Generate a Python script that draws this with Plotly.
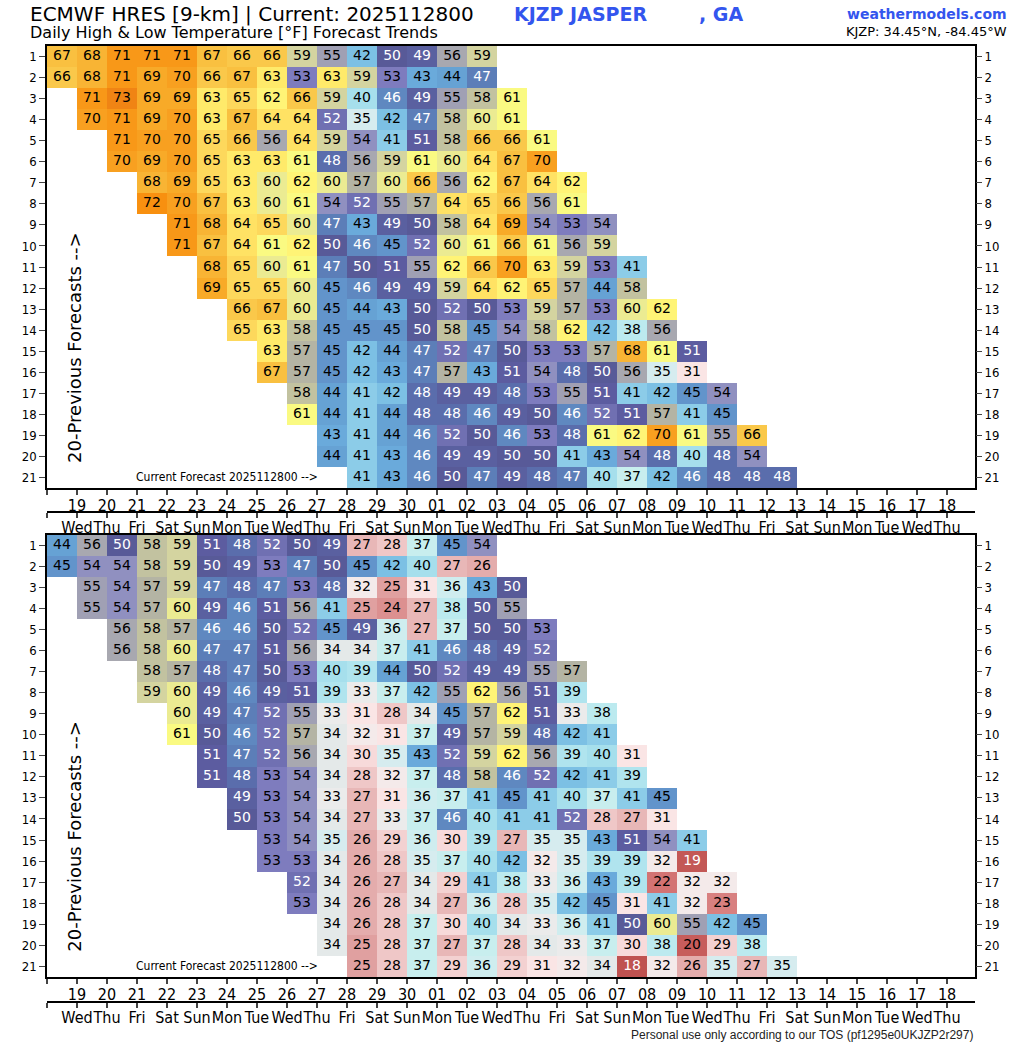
import plotly.graph_objects as go

# ---------------- data ----------------
date_labels = ['19', '20', '21', '22', '23', '24', '25', '26', '27', '28', '29', '30',
               '01', '02', '03', '04', '05', '06', '07', '08', '09', '10', '11', '12',
               '13', '14', '15', '16', '17', '18']
weekday_labels = ['Wed', 'Thu', 'Fri', 'Sat', 'Sun', 'Mon', 'Tue'] * 4 + ['Wed', 'Thu']
row_labels = list(range(1, 22))

# first day-column of every forecast row (each run shifts 12 h)
row_start = [0, 0, 1, 1, 2, 2, 3, 3, 4, 4, 5, 5, 6, 6, 7, 7, 8, 8, 9, 9, 10]

high_temps = [
    [67, 68, 71, 71, 71, 67, 66, 66, 59, 55, 42, 50, 49, 56, 59],
    [66, 68, 71, 69, 70, 66, 67, 63, 53, 63, 59, 53, 43, 44, 47],
    [71, 73, 69, 69, 63, 65, 62, 66, 59, 40, 46, 49, 55, 58, 61],
    [70, 71, 69, 70, 63, 67, 64, 64, 52, 35, 42, 47, 58, 60, 61],
    [71, 70, 70, 65, 66, 56, 64, 59, 54, 41, 51, 58, 66, 66, 61],
    [70, 69, 70, 65, 63, 63, 61, 48, 56, 59, 61, 60, 64, 67, 70],
    [68, 69, 65, 63, 60, 62, 60, 57, 60, 66, 56, 62, 67, 64, 62],
    [72, 70, 67, 63, 60, 61, 54, 52, 55, 57, 64, 65, 66, 56, 61],
    [71, 68, 64, 65, 60, 47, 43, 49, 50, 58, 64, 69, 54, 53, 54],
    [71, 67, 64, 61, 62, 50, 46, 45, 52, 60, 61, 66, 61, 56, 59],
    [68, 65, 60, 61, 47, 50, 51, 55, 62, 66, 70, 63, 59, 53, 41],
    [69, 65, 65, 60, 45, 46, 49, 49, 59, 64, 62, 65, 57, 44, 58],
    [66, 67, 60, 45, 44, 43, 50, 52, 50, 53, 59, 57, 53, 60, 62],
    [65, 63, 58, 45, 45, 45, 50, 58, 45, 54, 58, 62, 42, 38, 56],
    [63, 57, 45, 42, 44, 47, 52, 47, 50, 53, 53, 57, 68, 61, 51],
    [67, 57, 45, 42, 43, 47, 57, 43, 51, 54, 48, 50, 56, 35, 31],
    [58, 44, 41, 42, 48, 49, 49, 48, 53, 55, 51, 41, 42, 45, 54],
    [61, 44, 41, 44, 48, 48, 46, 49, 50, 46, 52, 51, 57, 41, 45],
    [43, 41, 44, 46, 52, 50, 46, 53, 48, 61, 62, 70, 61, 55, 66],
    [44, 41, 43, 46, 49, 49, 50, 50, 41, 43, 54, 48, 40, 48, 54],
    [41, 43, 46, 50, 47, 49, 48, 47, 40, 37, 42, 46, 48, 48, 48],
]

low_temps = [
    [44, 56, 50, 58, 59, 51, 48, 52, 50, 49, 27, 28, 37, 45, 54],
    [45, 54, 54, 58, 59, 50, 49, 53, 47, 50, 45, 42, 40, 27, 26],
    [55, 54, 57, 59, 47, 48, 47, 53, 48, 32, 25, 31, 36, 43, 50],
    [55, 54, 57, 60, 49, 46, 51, 56, 41, 25, 24, 27, 38, 50, 55],
    [56, 58, 57, 46, 46, 50, 52, 45, 49, 36, 27, 37, 50, 50, 53],
    [56, 58, 60, 47, 47, 51, 56, 34, 34, 37, 41, 46, 48, 49, 52],
    [58, 57, 48, 47, 50, 53, 40, 39, 44, 50, 52, 49, 49, 55, 57],
    [59, 60, 49, 46, 49, 51, 39, 33, 37, 42, 55, 62, 56, 51, 39],
    [60, 49, 47, 52, 55, 33, 31, 28, 34, 45, 57, 62, 51, 33, 38],
    [61, 50, 46, 52, 57, 34, 32, 31, 37, 49, 57, 59, 48, 42, 41],
    [51, 47, 52, 56, 34, 30, 35, 43, 52, 59, 62, 56, 39, 40, 31],
    [51, 48, 53, 54, 34, 28, 32, 37, 48, 58, 46, 52, 42, 41, 39],
    [49, 53, 54, 33, 27, 31, 36, 37, 41, 45, 41, 40, 37, 41, 45],
    [50, 53, 54, 34, 27, 33, 37, 46, 40, 41, 41, 52, 28, 27, 31],
    [53, 54, 35, 26, 29, 36, 30, 39, 27, 35, 35, 43, 51, 54, 41],
    [53, 53, 34, 26, 28, 35, 37, 40, 42, 32, 35, 39, 39, 32, 19],
    [52, 34, 26, 27, 34, 29, 41, 38, 33, 36, 43, 39, 22, 32, 32],
    [53, 34, 26, 28, 34, 27, 36, 28, 35, 42, 45, 31, 41, 32, 23],
    [34, 26, 28, 37, 30, 40, 34, 33, 36, 41, 50, 60, 55, 42, 45],
    [34, 25, 28, 37, 27, 37, 28, 34, 33, 37, 30, 38, 20, 29, 38],
    [25, 28, 37, 29, 36, 29, 31, 32, 34, 18, 32, 26, 35, 27, 35],
]

# temperature (F) -> colour anchors
temp_color_stops = [
    (18, '#bf5250'), (20, '#c75d5c'), (22, '#d37373'), (23, '#d88080'),
    (25, '#e0a0a0'), (27, '#e8b7b7'), (28, '#efc7c7'), (30, '#f7dada'),
    (31, '#fae5e5'), (32, '#f4eaea'), (33, '#ebebeb'), (34, '#e4e9e9'),
    (35, '#d6ecef'), (36, '#cfedef'), (37, '#c8eeee'), (38, '#bceaef'),
    (39, '#b0e4ee'), (40, '#a6dfec'), (41, '#8ccce8'), (42, '#7cc0e4'),
    (43, '#6aaadb'), (44, '#66a2d4'), (45, '#6294cb'), (46, '#5f88c0'),
    (47, '#5c7eb8'), (48, '#5a6dac'), (49, '#5a60a0'), (50, '#585a98'),
    (51, '#5c5ca0'), (52, '#7070b2'), (53, '#7e7cbe'), (54, '#9090c0'),
    (55, '#a0a0b4'), (56, '#a8a8b0'), (57, '#b4b4a4'), (58, '#c2c2a0'),
    (59, '#d4d4a0'), (60, '#ebeb92'), (61, '#fafa82'), (62, '#fff476'),
    (63, '#ffea6a'), (64, '#ffe264'), (65, '#fdd85c'), (66, '#fac84a'),
    (67, '#f9c040'), (68, '#f8b434'), (69, '#f8aa28'), (70, '#f8a020'),
    (71, '#f89818'), (72, '#f89010'), (73, '#f08414'),
]

N_COLS = 30
ZMIN, ZMAX = temp_color_stops[0][0], temp_color_stops[-1][0]
colorscale = [[(v - ZMIN) / (ZMAX - ZMIN), c] for v, c in temp_color_stops]


def build_grid(rows):
    grid = [[None] * N_COLS for _ in rows]
    for r, vals in enumerate(rows):
        for j, v in enumerate(vals):
            grid[r][row_start[r] + j] = v
    return grid


def text_points(rows, light):
    xs, ys, ts = [], [], []
    for r, vals in enumerate(rows):
        for j, v in enumerate(vals):
            is_light = (46 <= v <= 52) or v <= 19
            if is_light == light:
                xs.append(row_start[r] + j + 0.5)
                ys.append(row_labels[r])
                ts.append(str(v))
    return xs, ys, ts


# ---------------- figure ----------------
W, H = 1024, 1044
ML, MR, MT, MB = 47, 49, 46, 42
PW, PH = W - ML - MR, H - MT - MB


def pxx(px):
    return (px - ML) / PW


def pxy(py):
    return (H - MB - py) / PH


X_RANGE = [0, 30.93]
col_centers = [c + 0.5 for c in range(N_COLS)]
CELL_FONT = dict(family='DejaVu Sans', size=14)
NARROW = 'DejaVu Sans Condensed, Liberation Sans Narrow, Roboto, sans-serif'

fig = go.Figure()

panels = [(high_temps, 'x', 'y'), (low_temps, 'x2', 'y2')]
for rows, xa, ya in panels:
    fig.add_trace(go.Heatmap(
        z=build_grid(rows), x=col_centers, y=row_labels,
        colorscale=colorscale, zmin=ZMIN, zmax=ZMAX, showscale=False,
        hoverinfo='skip', xaxis=xa, yaxis=ya))
    for light in (False, True):
        xs, ys, ts = text_points(rows, light)
        fig.add_trace(go.Scatter(
            x=xs, y=ys, text=ts, mode='text',
            textfont=dict(CELL_FONT, color='white' if light else 'black'),
            hoverinfo='skip', showlegend=False, xaxis=xa, yaxis=ya))

# dummy traces to activate the overlay axes (weekday rows, right-hand labels)
for xa, ya in [('x3', 'y'), ('x4', 'y2'), ('x', 'y3'), ('x2', 'y4')]:
    fig.add_trace(go.Scatter(x=[None], y=[None], mode='markers', hoverinfo='skip',
                             showlegend=False, xaxis=xa, yaxis=ya))

TICK_FONT = dict(family=NARROW, size=16, color='black')
YTICK_FONT = dict(family=NARROW, size=13, color='black')
LINE_W = 1.5

top_dom = [pxy(488), 1.0]
bot_dom = [pxy(977), pxy(534.5)]

date_ax = dict(range=X_RANGE, tickmode='array', tickvals=list(range(0, 31)),
               ticktext=[''] + date_labels, ticks='outside', ticklen=5, tickwidth=1.5,
               showline=True, linewidth=LINE_W, linecolor='black', mirror=True,
               showgrid=False, zeroline=False, tickfont=TICK_FONT, tickangle=0,
               ticklabelstandoff=-3, automargin=False, fixedrange=True)
wk_ax = dict(range=X_RANGE, tickmode='array', tickvals=list(range(0, 31)),
             ticktext=[''] + weekday_labels, ticks='outside', ticklen=5, tickwidth=1.5,
             showline=True, linewidth=LINE_W, linecolor='black', side='bottom',
             showgrid=False, zeroline=False, tickfont=TICK_FONT, tickangle=0,
             ticklabelstandoff=-4, automargin=False, anchor='free')
row_ax = dict(range=[21.5, 0.5], tickmode='array', tickvals=row_labels,
              ticktext=[str(v) for v in row_labels], ticks='outside', ticklen=6,
              tickwidth=1.2, showline=True, linewidth=LINE_W, linecolor='black',
              mirror=True, showgrid=False, zeroline=False, tickfont=YTICK_FONT,
              automargin=False)
row_ax_r = dict(range=[21.5, 0.5], tickmode='array', tickvals=row_labels,
                ticktext=[str(v) for v in row_labels], ticks='outside', ticklen=6,
                tickwidth=1.2, showline=False, side='right', showgrid=False,
                zeroline=False, tickfont=YTICK_FONT, automargin=False)

fig.update_layout(
    width=W, height=H,
    margin=dict(l=ML, r=MR, t=MT, b=MB, autoexpand=False),
    paper_bgcolor='white', plot_bgcolor='white',
    showlegend=False,
    xaxis=dict(date_ax, domain=[0, 1], anchor='y'),
    yaxis=dict(row_ax, domain=top_dom, anchor='x'),
    xaxis2=dict(date_ax, domain=[0, 1], anchor='y2'),
    yaxis2=dict(row_ax, domain=bot_dom, anchor='x2'),
    xaxis3=dict(wk_ax, overlaying='x', position=pxy(512)),
    xaxis4=dict(wk_ax, overlaying='x2', position=0.0),
    yaxis3=dict(row_ax_r, overlaying='y', anchor='x'),
    yaxis4=dict(row_ax_r, overlaying='y2', anchor='x2'),
)

annotations = [
    dict(text='ECMWF HRES [9-km] | Current: 2025112800', x=pxx(28), y=pxy(14),
         xanchor='left', yanchor='middle',
         font=dict(family='DejaVu Sans', size=20, color='black')),
    dict(text='Daily High &amp; Low Temperature [°F] Forecast Trends', x=pxx(28), y=pxy(33),
         xanchor='left', yanchor='middle',
         font=dict(family='DejaVu Sans', size=16, color='black')),
    dict(text='<b>KJZP JASPER</b>', x=pxx(512), y=pxy(14), xanchor='left', yanchor='middle',
         font=dict(family='DejaVu Sans', size=19, color='#3355ee')),
    dict(text='<b>, GA</b>', x=pxx(697), y=pxy(14), xanchor='left', yanchor='middle',
         font=dict(family='DejaVu Sans', size=19, color='#3355ee')),
    dict(text='<b>weathermodels.com</b>', x=pxx(1009), y=pxy(14), xanchor='right',
         yanchor='middle', font=dict(family='DejaVu Sans', size=14, color='#3355ee')),
    dict(text='KJZP: 34.45°N, -84.45°W', x=pxx(1009), y=pxy(32), xanchor='right',
         yanchor='middle', font=dict(family='DejaVu Sans', size=13, color='black')),
    dict(text='Personal use only according to our TOS (pf1295e0UKJZP2r297)',
         x=pxx(975), y=pxy(1035), xanchor='right', yanchor='middle',
         font=dict(family='Liberation Sans', size=12, color='#222222')),
]
for xr, yr in [('x', 'y'), ('x2', 'y2')]:
    annotations.append(dict(text='20-Previous Forecasts -->', xref=xr, yref=yr,
                            x=0.93, y=14.8, textangle=-90, xanchor='center',
                            yanchor='middle',
                            font=dict(family='DejaVu Sans', size=18, color='black')))
    annotations.append(dict(text='Current Forecast 2025112800 -->', xref=xr, yref=yr,
                            x=9.1, y=21, xanchor='right', yanchor='middle',
                            font=dict(family=NARROW, size=12, color='black')))
for a in annotations:
    a.setdefault('xref', 'paper')
    a.setdefault('yref', 'paper')
    a['showarrow'] = False
fig.update_layout(annotations=annotations)

fig.write_html('out.html')
